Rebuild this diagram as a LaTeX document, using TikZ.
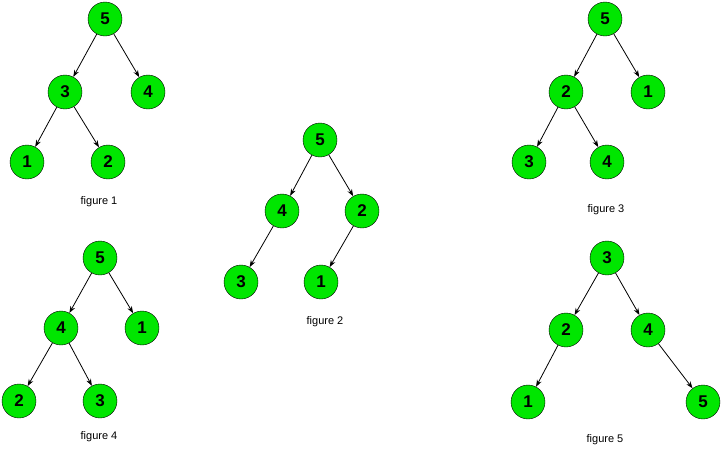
\documentclass[tikz,border=0pt]{standalone}
\usepackage{fontspec}
\setmainfont{Liberation Sans}
\usetikzlibrary{arrows.meta}
\begin{document}
\begin{tikzpicture}[x=1pt,y=-1pt,
  nd/.style={circle,draw=black,fill={rgb,255:red,0;green,230;blue,0},minimum size=34pt,inner sep=0pt,font=\fontsize{17}{17}\selectfont\bfseries},
  ed/.style={-{Stealth[length=7pt,width=5pt]},line width=0.8pt},
  lb/.style={font=\fontsize{11}{11}\selectfont}]
\useasboundingbox (0,0) rectangle (722,453);
% figure 1
\node[nd] (a5) at (105,19) {5};
\node[nd] (a3) at (65,92) {3};
\node[nd] (a4) at (148,92) {4};
\node[nd] (a1) at (27,162) {1};
\node[nd] (a2) at (108,162) {2};
\draw[ed] (a5)--(a3); \draw[ed] (a5)--(a4); \draw[ed] (a3)--(a1); \draw[ed] (a3)--(a2);
\node[lb] (l1) at (99,202) {figure 1};
% figure 2
\node[nd] (b5) at (320,140) {5};
\node[nd] (b4) at (282,211) {4};
\node[nd] (b2) at (362,211) {2};
\node[nd] (b3) at (241,282) {3};
\node[nd] (b1) at (321,282) {1};
\draw[ed] (b5)--(b4); \draw[ed] (b5)--(b2); \draw[ed] (b4)--(b3); \draw[ed] (b2)--(b1);
\node[lb] (l2) at (325,322) {figure 2};
% figure 3
\node[nd] (c5) at (605,19) {5};
\node[nd] (c2) at (566,92) {2};
\node[nd] (c1) at (648,92) {1};
\node[nd] (c3) at (529,162) {3};
\node[nd] (c4) at (607,162) {4};
\draw[ed] (c5)--(c2); \draw[ed] (c5)--(c1); \draw[ed] (c2)--(c3); \draw[ed] (c2)--(c4);
\node[lb] (l3) at (606,210) {figure 3};
% figure 4
\node[nd] (d5) at (100,258) {5};
\node[nd] (d4) at (61,328) {4};
\node[nd] (d1) at (142,328) {1};
\node[nd] (d2) at (19,401) {2};
\node[nd] (d3) at (100,401) {3};
\draw[ed] (d5)--(d4); \draw[ed] (d5)--(d1); \draw[ed] (d4)--(d2); \draw[ed] (d4)--(d3);
\node[lb] (l4) at (99,437) {figure 4};
% figure 5
\node[nd] (e3) at (607,258) {3};
\node[nd] (e2) at (566,330) {2};
\node[nd] (e4) at (648,330) {4};
\node[nd] (e1) at (528,402) {1};
\node[nd] (e5) at (703,402) {5};
\draw[ed] (e3)--(e2); \draw[ed] (e3)--(e4); \draw[ed] (e2)--(e1); \draw[ed] (e4)--(e5);
\node[lb] (l5) at (605,440) {figure 5};
\end{tikzpicture}
\end{document}
